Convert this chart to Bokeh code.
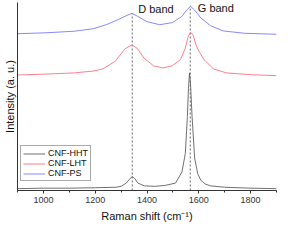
from bokeh.plotting import figure
from bokeh.models import Range1d, FixedTicker, Legend, LegendItem
from bokeh.core.properties import value
from bokeh.embed import file_html
from bokeh.resources import INLINE

# CNF-HHT (black/grey)
hht_x = [900, 1000, 1100, 1200, 1280, 1300, 1320, 1335, 1343, 1352, 1365, 1390, 1430, 1470, 1510,
         1535, 1548, 1556, 1560, 1564, 1568, 1574, 1584, 1596, 1608, 1625, 1645, 1700, 1800, 1900]
hht_y = [2, 2.5, 2.5, 3, 3.5, 4.5, 8, 13, 15, 13, 8, 5, 4.5, 5.5, 8,
         20, 40, 80, 110, 127, 115, 80, 35, 18, 11, 7, 5, 3.5, 2.5, 2]

# CNF-LHT (red)
lht_x = [900, 1010, 1120, 1193, 1230, 1278, 1315, 1342, 1364, 1388, 1425, 1462, 1498, 1529,
         1547, 1559, 1568, 1578, 1590, 1602, 1620, 1657, 1706, 1804, 1900]
lht_y = [124.7, 125.7, 127, 129, 131.3, 139.7, 153, 157.3, 153, 143, 134.7, 132.3, 134.7, 141.3,
         153, 166.3, 170.7, 168, 156.3, 149.7, 141.3, 131.3, 127, 125, 124]

# CNF-PS (blue)
ps_x = [900, 1010, 1120, 1193, 1242, 1290, 1327, 1342, 1364, 1400, 1449, 1498, 1535,
        1553, 1568, 1584, 1608, 1645, 1694, 1779, 1900]
ps_y = [169.3, 170.3, 172, 174.7, 179, 184.7, 189.7, 191.3, 188, 182.3, 179, 181.3, 188,
        194.7, 199, 194.7, 186.3, 178, 172.3, 169.7, 168.7]

band_pos = [1343, 1567]
band_top = [191, 199]
band_names = ["D band", "G band"]
band_label_x = [1366, 1596]
band_label_y = [195.5, 197]

x_ticks = [1000, 1200, 1400, 1600, 1800]

p = figure(width=278, height=224, output_backend="svg", toolbar_location=None,
           x_range=Range1d(900, 1900), y_range=Range1d(0, 203))
p.min_border_left = 2
p.min_border_right = 2
p.min_border_top = 2
p.min_border_bottom = 2
p.outline_line_color = None
p.grid.visible = False
p.background_fill_color = "white"
p.border_fill_color = "white"

# dotted band markers
p.segment(x0=band_pos, y0=[0, 0], x1=band_pos, y1=band_top,
          line_color="#444444", line_width=0.8, line_dash="2 2")

r_hht = p.line(hht_x, hht_y, line_color="#606060", line_width=0.9)
r_lht = p.line(lht_x, lht_y, line_color="#ff7080", line_width=0.9)
r_ps = p.line(ps_x, ps_y, line_color="#7a7aff", line_width=0.9)

p.text(x=band_label_x, y=band_label_y, text=band_names,
       text_font=value("Liberation Sans"), text_font_size="11px",
       text_baseline="middle", text_align="left", text_color="#111111")

# axes
p.xaxis.ticker = FixedTicker(ticks=x_ticks, minor_ticks=[1100, 1300, 1500, 1700, 900, 1900])
p.xaxis.axis_label = "Raman shift (cm\u207b\u00b9)"
p.xaxis.axis_label_text_font = "Liberation Sans"
p.xaxis.axis_label_text_font_style = "normal"
p.xaxis.axis_label_text_font_size = "11px"
p.xaxis.axis_label_text_color = "#111111"
p.xaxis.axis_label_standoff = 4
p.xaxis.major_label_text_font = "Liberation Sans"
p.xaxis.major_label_text_font_size = "9px"
p.xaxis.major_label_text_color = "#333333"
p.xaxis.major_label_standoff = 3
p.xaxis.major_tick_in = 0
p.xaxis.major_tick_out = 3
p.xaxis.minor_tick_in = 0
p.xaxis.minor_tick_out = 2
p.xaxis.axis_line_color = "#333333"
p.xaxis.major_tick_line_color = "#333333"
p.xaxis.minor_tick_line_color = "#333333"

p.yaxis.ticker = FixedTicker(ticks=[])
p.yaxis.axis_label = "Intensity (a. u.)"
p.yaxis.axis_label_text_font = "Liberation Sans"
p.yaxis.axis_label_text_font_style = "normal"
p.yaxis.axis_label_text_font_size = "11px"
p.yaxis.axis_label_text_color = "#111111"
p.yaxis.axis_label_standoff = 2
p.yaxis.major_label_text_font_size = "0px"
p.yaxis.major_tick_line_color = None
p.yaxis.minor_tick_line_color = None
p.yaxis.axis_line_color = "#333333"

legend = Legend(items=[LegendItem(label="CNF-HHT", renderers=[r_hht]),
                       LegendItem(label="CNF-LHT", renderers=[r_lht]),
                       LegendItem(label="CNF-PS", renderers=[r_ps])],
                location=(3, 9))
legend.label_text_font = "Liberation Sans"
legend.label_text_font_size = "9px"
legend.label_text_color = "#111111"
legend.label_height = 9
legend.glyph_height = 9
legend.glyph_width = 22
legend.label_standoff = 3
legend.spacing = 0
legend.padding = 2
legend.margin = 0
legend.border_line_color = "#555555"
legend.border_line_width = 1
legend.background_fill_alpha = 1
p.add_layout(legend)

open("out.html", "w").write(file_html(p, INLINE))
